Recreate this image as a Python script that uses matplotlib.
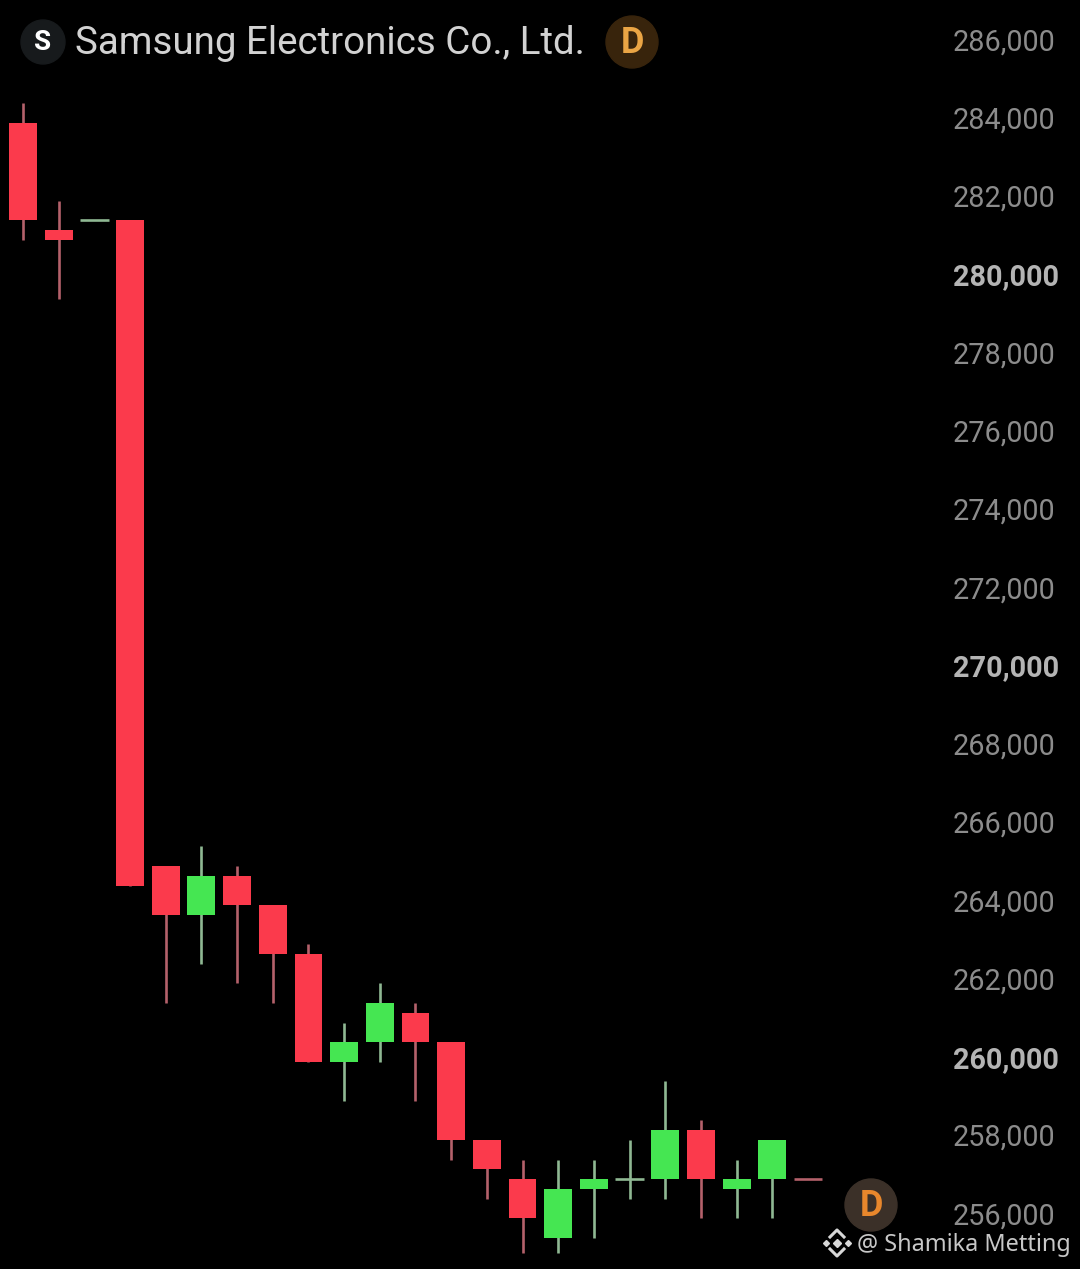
import matplotlib
matplotlib.use("Agg")
import matplotlib.pyplot as plt
from matplotlib.patches import Circle
from matplotlib.transforms import ScaledTranslation

# daily candles
opens = [284000, 281250, 281500, 281500, 265000, 263750, 264750, 264000, 262750, 260000, 260500,
         261250, 260500, 258000, 257000, 255500, 256750, 257000, 257000, 258250, 256750, 257000, 257000]
closes = [281500, 281000, 281500, 264500, 263750, 264750, 264000, 262750, 260000, 260500, 261500,
          260500, 258000, 257250, 256000, 256750, 257000, 257000, 258250, 257000, 257000, 258000, 257000]
highs = [284500, 282000, 281500, 281500, 265000, 265500, 265000, 264000, 263000, 261000, 262000,
         261500, 260500, 258000, 257500, 257500, 257500, 258000, 259500, 258500, 257500, 258000, 257000]
lows = [281000, 279500, 281500, 264500, 261500, 262500, 262000, 261500, 260000, 259000, 260000,
        259000, 257500, 256500, 255100, 255100, 255500, 256500, 256500, 256000, 256000, 256000, 257000]
# the two flat candles that are drawn green / red
flat_up = [2, 17]

price_ticks = list(range(256000, 286001, 2000))
bold_ticks = [260000, 270000, 280000]

title = "Samsung Electronics Co., Ltd."
watermark = "@ Shamika Metting"

RED = "#fb3a4c"
GREEN = "#45e652"
RED_WICK = "#b4616b"
GREEN_WICK = "#8fb893"

W, H = 1080, 1269
fig = plt.figure(figsize=(W / 100, H / 100), dpi=100, facecolor="black")

# chart axes stop left of the price labels
ax = fig.add_axes([0, 0, 945 / W, 1])
ax.set_facecolor("black")
step = 35.68
ax.set_xlim(-23 / step, (945 - 23) / step)
px_per_price = 0.03913
ax.set_ylim(286000 - (H - 44.3) / px_per_price, 286000 + 44.3 / px_per_price)

for i in range(len(opens)):
    up = closes[i] > opens[i] or i in flat_up
    wick = GREEN_WICK if up else RED_WICK
    body = GREEN if up else RED
    ax.vlines(i, lows[i], highs[i], color=wick, lw=1.9, zorder=1)
    if opens[i] == closes[i]:
        ax.hlines(opens[i], i - 0.4, i + 0.4, color=wick, lw=1.9, zorder=2)
    else:
        bottom = min(opens[i], closes[i])
        ax.bar(i, abs(closes[i] - opens[i]), bottom=bottom, width=0.78, color=body, zorder=2)

for s in ax.spines.values():
    s.set_visible(False)
ax.set_xticks([])
ax.yaxis.tick_right()
ax.set_yticks(price_ticks)
ax.set_yticklabels([f"{p:,}" for p in price_ticks])
ax.tick_params(axis="y", length=0, pad=5.5)
shift = ScaledTranslation(0, 5 / 100, fig.dpi_scale_trans)
for p, lab in zip(price_ticks, ax.get_yticklabels()):
    lab.set_family("Roboto")
    lab.set_fontsize(20.7)
    lab.set_transform(lab.get_transform() + shift)
    if p in bold_ticks:
        lab.set_fontweight("bold")
        lab.set_color("#b4b4b4")
    else:
        lab.set_color("#8c8c8c")

# overlay in pixel coordinates for the header and badges
top = fig.add_axes([0, 0, 1, 1])
top.set_xlim(0, W)
top.set_ylim(H, 0)
top.axis("off")
top.patch.set_alpha(0)

top.add_patch(Circle((43, 42), 22, color="#171a1c"))
top.text(43, 42, "S", color="white", fontsize=20, fontweight="bold", family="Roboto", ha="center", va="center")
top.text(75, 43, title, color="#d2d2d2", fontsize=27.7, family="Roboto", ha="left", va="center")
top.add_patch(Circle((632, 42), 26, color="#38240c"))
top.text(632, 43, "D", color="#eaa545", fontsize=26, fontweight="bold", family="Roboto", ha="center", va="center")

top.add_patch(Circle((871, 1205), 26, color="#3b3028"))
top.text(871, 1206, "D", color="#e8872c", fontsize=26, fontweight="bold", family="Roboto", ha="center", va="center")

# exchange logo next to the watermark
logo = "#d8d8d8"
top.plot(837, 1243, marker="D", ms=4.5, color=logo)
top.plot([826, 848], [1243, 1243], ls="none", marker="D", ms=3, color=logo)
top.plot([830, 837, 844], [1237, 1230, 1237], color=logo, lw=2.2)
top.plot([830, 837, 844], [1249, 1256, 1249], color=logo, lw=2.2)
top.text(857, 1245, watermark, color="#c8c8c8", fontsize=16.9, family="Noto Sans", ha="left", va="center")

fig.savefig("out.png", dpi=100, facecolor="black")
